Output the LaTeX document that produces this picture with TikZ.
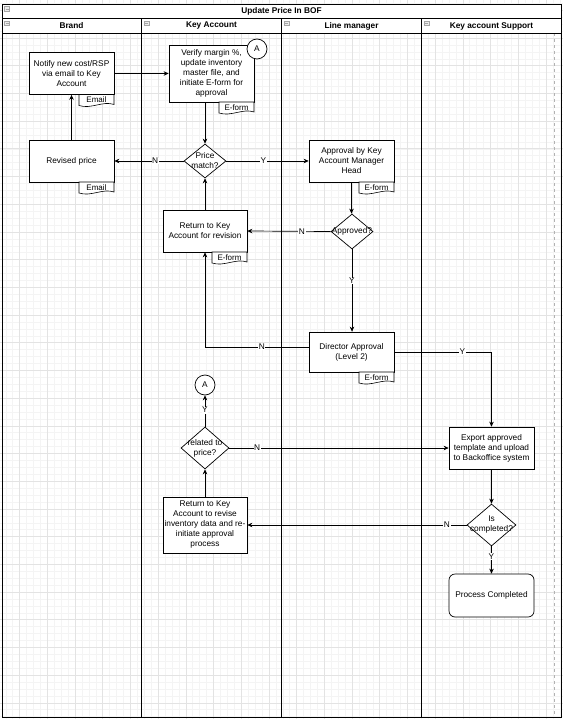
\documentclass[tikz,border=0pt]{standalone}
\usepackage{fontspec}
\setmainfont{Liberation Sans}
\usetikzlibrary{shapes.geometric,arrows.meta}
\newcommand{\dtag}[4]{% #1 name, #2 x, #3 y (top-left), #4 text
  \draw[line width=0.6pt, fill=white] (#2,#3) -- ++(35,0) -- ++(0,10)
     .. controls (#2+24,#3+6) and (#2+12,#3+15) .. (#2,#3+11) -- cycle;
  \node[font=\fontsize{8}{9}\selectfont, inner sep=0pt] (#1) at (#2+17.5,#3+5.2) {#4};
}
\begin{document}
\begin{tikzpicture}[x=1pt,y=-1pt,
  txt/.style={font=\fontsize{8.3}{10}\selectfont, align=center},
  hdr/.style={font=\fontsize{8.3}{10}\selectfont\bfseries},
  box/.style={draw, fill=white, line width=0.7pt, minimum width=85pt, minimum height=42pt, inner sep=0pt, txt},
  dia/.style={draw, fill=white, shape=diamond, line width=0.7pt, inner sep=0pt},
  arr/.style={line width=0.7pt, -{Stealth[length=5pt,width=4.5pt]}},
  lbl/.style={fill=white, inner sep=0.6pt, txt},
  circ/.style={circle, draw, fill=white, line width=0.7pt, minimum size=20pt, inner sep=0pt, txt},
]
\useasboundingbox (0,0) rectangle (563,719);
% grid
\foreach \i in {0,...,80} \draw[gray!9, line width=0.3pt] (5.65+\i*6.925,0) -- (5.65+\i*6.925,719);
\foreach \i in {0,...,103} \draw[gray!9, line width=0.3pt] (0,3.275+\i*6.925) -- (563,3.275+\i*6.925);
\foreach \i in {0,...,19} \draw[gray!22, line width=0.4pt] (19.5+\i*27.7,0) -- (19.5+\i*27.7,719);
\foreach \i in {0,...,25} \draw[gray!22, line width=0.4pt] (0,10.2+\i*27.7) -- (563,10.2+\i*27.7);
% page break line
\draw[gray!60, dashed, line width=0.5pt] (554.5,33) -- (554.5,717);
% pool frame
\fill[white] (2,4) rectangle (561,33);
\draw[line width=0.9pt] (2,4) rectangle (561,717);
\draw[line width=0.7pt] (2,18.5) -- (561,18.5);
\draw[line width=0.7pt] (2,33) -- (561,33);
\foreach \x in {141.5,281.5,421.5} \draw[line width=0.7pt] (\x,18.5) -- (\x,717);
% collapse icons
\draw[gray!70, line width=0.4pt, fill=gray!15] (4.5,6.5) rectangle ++(5,4.5);
\draw[gray!70, line width=0.4pt] (5.5,8.75) -- ++(3,0);
\foreach \x in {2,141.5,281.5,421.5} {
  \draw[gray!70, line width=0.4pt, fill=gray!15] (\x+2.5,21) rectangle ++(5,4.5);
  \draw[gray!70, line width=0.4pt] (\x+3.5,23.25) -- ++(3,0);
}
% headers
\node[hdr] (title) at (281.5,11.5) {Update Price In BOF};
\node[hdr] (hBrand) at (71.5,26) {Brand};
\node[hdr] (hKA) at (211.5,26) {Key Account};
\node[hdr] (hLM) at (351.5,26) {Line manager};
\node[hdr] (hKAS) at (491.5,26) {Key account Support};
% nodes
\node[box] (notify) at (71.5,73.5) {Notify new cost/RSP\\via email to Key\\Account};
\dtag{t1}{79}{94.5}{Email}
\node[box, minimum height=57pt] (verify) at (211.5,73.5) {Verify margin \%,\\update inventory\\master file, and\\initiate E-form for\\approval};
\dtag{t2}{219}{102}{E-form}
\node[circ] (circA) at (257,49) {A};
\node[box] (revised) at (71.5,161) {Revised price};
\dtag{t3}{79}{182}{Email}
\node[dia, minimum width=42pt, minimum height=34pt] (pm) at (205,161) {};
\node[txt] (pmt) at (pm) {Price\\match?};
\node[box] (approval) at (351.5,161) {Approval by Key\\Account Manager\\Head};
\dtag{t4}{359}{182}{E-form}
\node[dia, minimum width=42pt, minimum height=35pt] (appr) at (352,231.5) {};
\node[txt] (apprt) at (appr) {Approved?};
\node[box, minimum width=84pt] (ret1) at (205,231) {Return to Key\\Account for revision};
\dtag{t5}{212}{252}{E-form}
\node[box, minimum height=40pt] (director) at (351.5,352) {Director Approval\\(Level 2)};
\dtag{t6}{359}{372}{E-form}
\node[circ] (circB) at (205,385) {A};
\node[dia, minimum width=48pt, minimum height=42pt] (rel) at (205,448) {};
\node[txt] (relt) at (rel) {related to\\price?};
\node[box] (export) at (491.5,448) {Export approved\\template and upload\\to Backoffice system};
\node[box, minimum width=84pt, minimum height=56pt] (ret2) at (205,525) {Return to Key\\Account to revise\\inventory data and re-\\initiate approval\\process};
\node[dia, minimum width=49pt, minimum height=42pt] (done) at (491.5,525) {};
\node[txt] (donet) at (done) {Is\\completed?};
\node[box, rounded corners=6pt, minimum height=43pt] (proc) at (491.5,595.5) {Process Completed};
% connectors
\draw[arr] (revised.north) -- (notify.south);
\draw[arr] (notify.east) -- (verify.west);
\draw[arr] (pm.north |- verify.south) -- (pm.north);
\draw[arr] (pm.west) -- node[lbl, pos=0.41] {N} (revised.east);
\draw[arr] (pm.east) -- node[lbl, pos=0.45] {Y} (approval.west);
\draw[arr] (approval.south) -- (approval.south |- appr.north);
\draw[arr] (appr.west) -- node[lbl, pos=0.345] {N} (ret1.east);
\draw[arr] (appr.south) -- node[lbl, pos=0.385] {Y} (appr.south |- director.north);
\draw[arr] (ret1.north) -- (pm.south);
\draw[arr] ([yshift=5pt]director.west) -| node[lbl, pos=0.226] {N} (ret1.south);
\draw[arr] (director.east) -| node[lbl, pos=0.35] {Y} (export.north);
\draw[arr] (ret2.north) -- (rel.south);
\draw[arr] (rel.north) -- node[lbl, pos=0.53] {Y} (circB.south);
\draw[arr] (rel.east) -- node[lbl, pos=0.127] {N} (export.west);
\draw[arr] (export.south) -- (done.north);
\draw[arr] (done.west) -- node[lbl, pos=0.09] {N} (ret2.east);
\draw[arr] (done.south) -- node[lbl, pos=0.36] {Y} (proc.north);
\end{tikzpicture}
\end{document}
